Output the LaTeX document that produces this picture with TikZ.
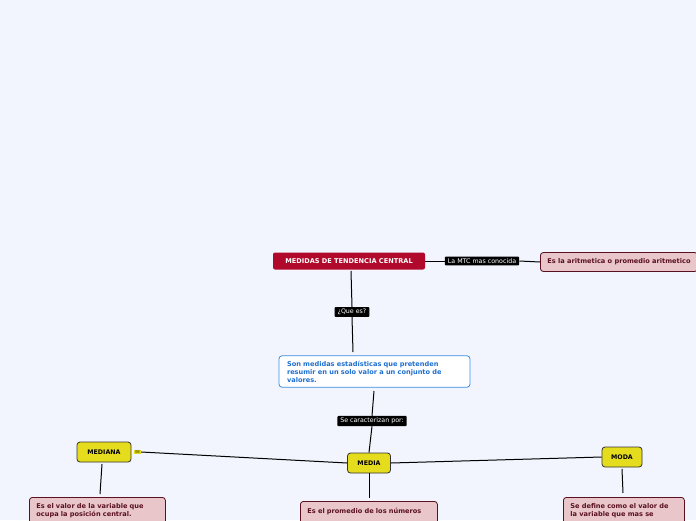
\documentclass[tikz,border=0pt]{standalone}
\usepackage{fontspec}
\setmainfont{DejaVu Sans}
\begin{document}
\begin{tikzpicture}[x=1pt,y=-1pt,
  every node/.style={font=\fontsize{6.6}{8}\selectfont\bfseries},
  lbl/.style={fill=black,text=white,rounded corners=1pt,inner xsep=3pt,inner ysep=2pt,font=\fontsize{6.3}{7}\selectfont},
  red/.style={fill=redc,text=white,rounded corners=2pt,minimum width=152pt,minimum height=17pt},
  pinkbox/.style={fill=pinkc,draw=pinkd,line width=0.8pt,rounded corners=3pt,text=pinkd,align=left,anchor=north west,inner xsep=7pt,inner ysep=6.5pt,text depth=25pt},
  ybox/.style={fill=yel,draw=black!80,line width=0.8pt,rounded corners=3pt,minimum height=20pt,font=\fontsize{6.3}{7}\selectfont\bfseries},
  con/.style={line width=1pt,black}]
\definecolor{redc}{HTML}{B0092B}
\definecolor{pinkc}{HTML}{E8C6CA}
\definecolor{pinkd}{HTML}{5A1020}
\definecolor{yel}{HTML}{E6DC1E}
\definecolor{bluec}{HTML}{3A8EE6}
\definecolor{bluet}{HTML}{1F6FD1}
\useasboundingbox[fill={rgb,255:red,242;green,245;blue,254}] (0,0) rectangle (696,520);
\node[red] (t) at (349,261) {MEDIDAS DE TENDENCIA CENTRAL};
\node[lbl] (l1) at (482,261) {La MTC mas conocida};
\node[fill=pinkc,draw=pinkd,line width=0.8pt,rounded corners=3pt,text=pinkd,minimum height=19pt,inner xsep=7pt,anchor=west] (p1) at (540,262) {Es la aritmetica o promedio aritmetico};
\node[lbl] (q) at (352,312) {¿Que es?};
\node[draw=bluec,fill=white,line width=0.8pt,rounded corners=3pt,text=bluet,align=left,text width=175pt,inner xsep=8pt,inner ysep=5pt] (b) at (374.5,371.5) {Son medidas estadísticas que pretenden\\resumir en un solo valor a un conjunto de\\valores.};
\node[lbl] (s) at (372,421) {Se caracterizan por:};
\node[ybox,minimum width=43pt] (m) at (369,463) {MEDIA};
\node[ybox,minimum width=54pt] (md) at (104,452) {MEDIANA};
\node[fill=yel,inner sep=0.5pt,font=\fontsize{6}{6}\selectfont] (ic) at (137.5,452) {$\equiv$};
\node[ybox,minimum width=40pt] (mo) at (622,457) {MODA};
\node[pinkbox,text width=122pt] (p2) at (29,497) {Es el valor de la variable que\\ocupa la posición central.};
\node[pinkbox,text width=123pt] (p3) at (300,501) {Es el promedio de los números};
\node[pinkbox,text width=107pt] (p4) at (563,497) {Se define como el valor de\\la variable que mas se};
\draw[con] (t.east) -- (l1.west);
\draw[con] (l1.east) -- (p1.west);
\draw[con] (351,271) -- (q.north);
\draw[con] (q.south) -- (353,352);
\draw[con] (374,391) -- (s.north);
\draw[con] (s.south) -- (m.north);
\draw[con] (ic.east) -- (m.west);
\draw[con] (m.east) -- (mo.west);
\draw[con] (102,464) -- (100,494);
\draw[con] (m.south) -- (369,498);
\draw[con] (622,469) -- (623,493);
\end{tikzpicture}
\end{document}
